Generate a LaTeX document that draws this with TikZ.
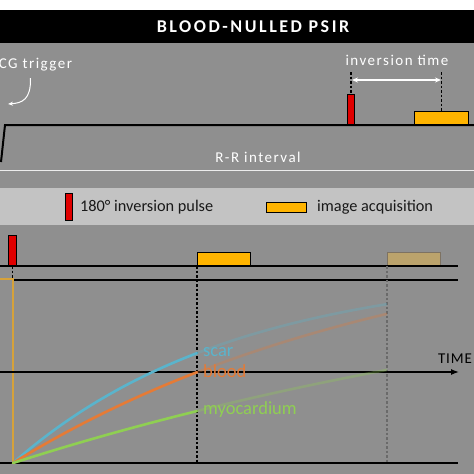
\documentclass[tikz,border=0pt]{standalone}
\usepackage{fontspec}
\setmainfont{Carlito}
\usetikzlibrary{arrows.meta}
\definecolor{bggray}{HTML}{8F8F8F}
\definecolor{legband}{HTML}{C3C3C3}
\definecolor{pulsered}{HTML}{E00000}
\definecolor{acqorange}{HTML}{FFB400}
\definecolor{fadedfill}{HTML}{BBA36C}
\definecolor{fadeddraw}{HTML}{7D7262}
\definecolor{scarcol}{HTML}{5AB4CC}
\definecolor{bloodcol}{HTML}{E57B36}
\definecolor{myocol}{HTML}{8FCF52}
\definecolor{goldcol}{HTML}{D6A23A}
\definecolor{dashgray}{HTML}{6A6A6A}
\tikzset{
  pulsebox/.style={fill=pulsered,draw=black,line width=0.8pt},
  acqbox/.style={fill=acqorange,draw=black,line width=1pt},
  whitetxt/.style={text=white,inner sep=0pt,font=\fontsize{15}{15}\selectfont\addfontfeature{LetterSpace=10}},
  legtxt/.style={text=black!90,inner sep=0pt,anchor=west,font=\fontsize{16.3}{16.3}\selectfont},
  curvetxt/.style={inner sep=0pt,anchor=west,font=\fontsize{18.5}{18.5}\selectfont},
  dashln/.style={line width=1.2pt,dash pattern=on 2.5pt off 2pt},
  curve/.style={line width=2.6pt,line cap=round},
  fadedcurve/.style={line width=2.6pt,opacity=0.3},
}
\begin{document}
\begin{tikzpicture}[x=1pt,y=-1pt]
\useasboundingbox (0,0) rectangle (474,474);
% backgrounds
\fill[white] (0,0) rectangle (474,10);
\fill[bggray] (0,10) rectangle (474,474);
\fill[black] (0,10) rectangle (474,43);
\fill[legband] (0,188) rectangle (474,225);
% header
\node[text=white,inner sep=0pt,font=\fontsize{18}{18}\selectfont\bfseries\addfontfeature{LetterSpace=14}] (title) at (253,27) {BLOOD-NULLED PSIR};
% ECG trace
\coordinate (q0) at (1,162);
\coordinate (q1) at (5,125);
\coordinate (q2) at (474,125);
\draw[line width=2pt,line join=miter] (q0) -- (q1) -- (q2);
\node[whitetxt,anchor=west] (ecg) at (-10,65) {ECG trigger};
\coordinate (ca) at (30.5,78);
\coordinate (cb) at (8,104);
\draw[white,line width=1pt,-{Stealth[length=5pt,width=4pt]}] (ca) .. controls (31,100) and (22,103) .. (cb);
% top pulse and acquisition
\node[pulsebox,minimum width=7pt,minimum height=30pt,inner sep=0pt,anchor=south west] (tp) at (347,125) {};
\node[acqbox,minimum width=54pt,minimum height=13pt,inner sep=0pt,anchor=south west] (ta) at (414,125) {};
\coordinate (d1) at (351,72);
\coordinate (d2) at (441.5,72);
\draw[dashln] (d1) -- (tp.north -| d1);
\draw[dashln] (d2) -- (ta.north -| d2);
\coordinate (w1) at (352,80);
\coordinate (w2) at (441,80);
\draw[white,line width=1.2pt,{Stealth[length=6pt,width=5pt]}-{Stealth[length=6pt,width=5pt]}] (w1) -- (w2);
\node[whitetxt] (invt) at (397,60) {inversion time};
\node[whitetxt] (rr) at (258,157) {R-R interval};
\coordinate (wl1) at (0,170.7);
\coordinate (wl2) at (474,170.7);
\draw[white!85!gray,line width=1.5pt] (wl1) -- (wl2);
% legend
\node[pulsebox,minimum width=7pt,minimum height=27pt,inner sep=0pt,anchor=north west] (lp) at (65,193) {};
\node[legtxt] (lpt) at (80,207) {180° inversion pulse};
\node[acqbox,minimum width=40pt,minimum height=10pt,inner sep=0pt,anchor=north west] (la) at (266,202) {};
\node[legtxt] (lat) at (317,207) {image acquisition};
% lower panel
\node[pulsebox,minimum width=8pt,minimum height=30pt,inner sep=0pt,anchor=south west] (bp) at (8,266) {};
\node[acqbox,minimum width=53pt,minimum height=13pt,inner sep=0pt,anchor=south west] (ba) at (197,266) {};
\node[fill=fadedfill,draw=fadeddraw,line width=1pt,minimum width=53pt,minimum height=13pt,inner sep=0pt,anchor=south west] (bf) at (387,266) {};
\coordinate (b1) at (0,266);
\coordinate (b2) at (458,266);
\draw[line width=2pt] (b1) -- (b2);
\coordinate (c1) at (13,280);
\coordinate (c2) at (458,280);
\draw[line width=1.4pt] (c1) -- (c2);
\coordinate (v0a) at (12,266);
\coordinate (v0b) at (12,279);
\draw[dashln,line width=1pt] (v0a) -- (v0b);
\coordinate (v1a) at (197,266);
\coordinate (v1b) at (197,463);
\draw[dashln] (v1a) -- (v1b);
\coordinate (v2a) at (387,266);
\coordinate (v2b) at (387,463);
\draw[dashln,dashgray] (v2a) -- (v2b);
% inverted magnetization marker
\coordinate (g0) at (0,279);
\coordinate (g1) at (12.5,279);
\coordinate (g2) at (12.5,463);
\draw[goldcol,line width=2pt] (g0) -- (g1) -- (g2);
% axes
\coordinate (t1) at (0,372);
\coordinate (t2) at (459,372);
\draw[line width=1.3pt,-{Latex[length=8pt,width=6pt]}] (t1) -- (t2);
\node[inner sep=0pt,font=\fontsize{15}{15}\selectfont\addfontfeature{LetterSpace=6}] (time) at (455,359) {TIME};
\coordinate (z1) at (0,463);
\coordinate (z2) at (458,463);
\draw[line width=2pt] (z1) -- (z2);
% recovery curves
\draw[fadedcurve,scarcol] plot[domain=197:387,samples=30] (\x,{463-195*(1-exp(-(\x-13)/222))});
\draw[fadedcurve,bloodcol] plot[domain=197:387,samples=30] (\x,{463-243*(1-exp(-(\x-13)/393))});
\draw[fadedcurve,myocol] plot[domain=197:387,samples=30] (\x,{463-226*(1-exp(-(\x-13)/704))});
\draw[curve,scarcol] plot[domain=13:197,samples=40] (\x,{463-195*(1-exp(-(\x-13)/222))});
\draw[curve,bloodcol] plot[domain=13:197,samples=40] (\x,{463-243*(1-exp(-(\x-13)/393))});
\draw[curve,myocol] plot[domain=13:197,samples=40] (\x,{463-226*(1-exp(-(\x-13)/704))});
\node[curvetxt,text=scarcol] (scar) at (203,352) {scar};
\node[curvetxt,text=bloodcol] (blood) at (203,371) {blood};
\node[curvetxt,text=myocol] (myo) at (203,410) {myocardium};
\end{tikzpicture}
\end{document}
